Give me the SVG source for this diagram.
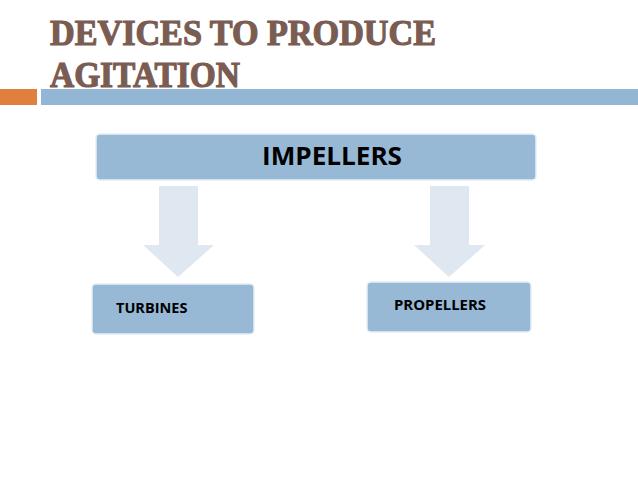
<svg xmlns="http://www.w3.org/2000/svg" width="638" height="478" viewBox="0 0 638 478">
<style>
.box{fill:#97b9d6;stroke:#e6eef6;stroke-width:1.5}
.arr{fill:#dfe8f0}
.t{font-family:"Open Sans","DejaVu Sans",sans-serif;font-weight:bold;fill:#000}
.title{font-family:"Liberation Serif",serif;font-weight:bold;font-size:36px;fill:#7a5c52;stroke:#7a5c52;stroke-width:1.2}
</style>
<rect width="638" height="478" fill="#fff"/>
<g id="title">
<text class="title" x="50" y="45" textLength="386" lengthAdjust="spacingAndGlyphs">DEVICES TO PRODUCE</text>
<text class="title" x="50" y="87" textLength="190" lengthAdjust="spacingAndGlyphs">AGITATION</text>
<rect x="0" y="89" width="37" height="16" fill="#e07f3e"/>
<rect x="41" y="89" width="597" height="16" fill="#93b6d4"/>
</g>
<g id="connectors">
<polygon class="arr" points="159,186 198,186 198,245 214,245 178,277 143,245 159,245"/>
<polygon class="arr" points="430,186 469,186 469,245 485,245 449,277 414,245 430,245"/>
</g>
<g id="impellers">
<rect class="box" x="96" y="134" width="440" height="46" rx="4"/>
<text class="t" x="332" y="165" font-size="25" text-anchor="middle" textLength="140" lengthAdjust="spacingAndGlyphs">IMPELLERS</text>
</g>
<g id="turbines">
<rect class="box" x="92" y="284" width="162" height="50" rx="4"/>
<text class="t" x="116" y="313" font-size="14.5">TURBINES</text>
</g>
<g id="propellers">
<rect class="box" x="367" y="282" width="164" height="50" rx="4"/>
<text class="t" x="394" y="310" font-size="14.5" textLength="92" lengthAdjust="spacingAndGlyphs">PROPELLERS</text>
</g>
</svg>
